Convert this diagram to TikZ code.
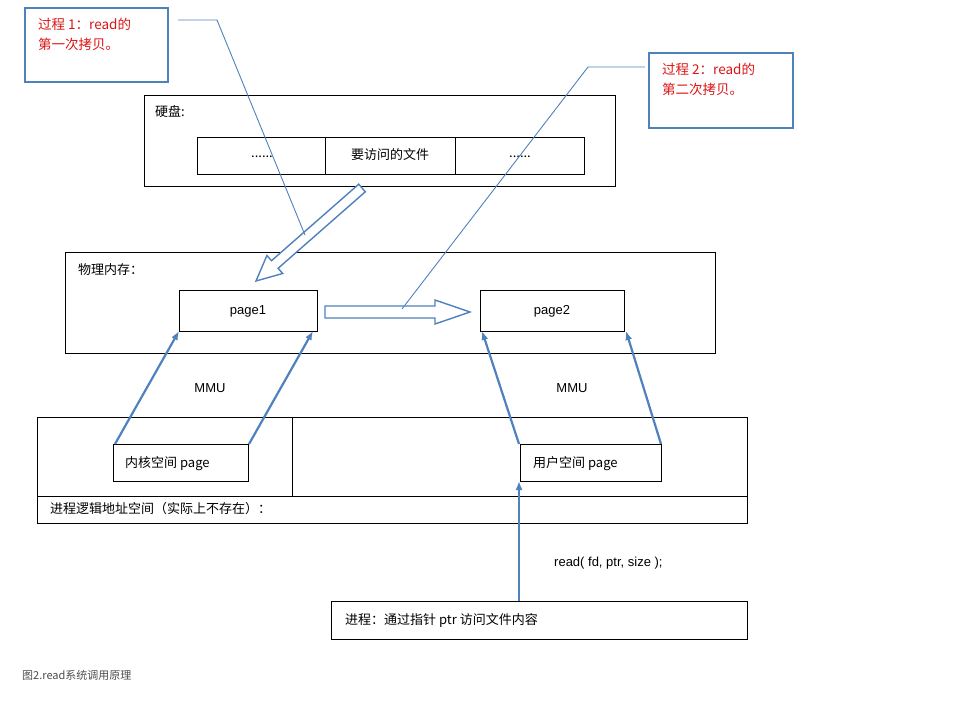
\documentclass[tikz,border=0pt]{standalone}
\usepackage{fontspec}
\usetikzlibrary{arrows.meta}
\setmainfont{Noto Sans CJK SC}
\newfontfamily\latinf{Liberation Sans}
\definecolor{ablue}{RGB}{79,129,189}
\definecolor{ared}{RGB}{220,20,20}
\begin{document}
\begin{tikzpicture}[x=1pt,y=-1pt,
  box/.style={draw=black,line width=0.8pt},
  bluebox/.style={draw=ablue,line width=1.6pt},
  txt/.style={font=\fontsize{13}{15}\selectfont,inner sep=0pt,anchor=west},
  ctxt/.style={font=\fontsize{13}{15}\selectfont,inner sep=0pt},
  lat/.style={font=\latinf\fontsize{13}{15}\selectfont},
  redtxt/.style={font=\fontsize{13.5}{20}\selectfont,text=ared,inner sep=0pt,anchor=north west,align=left},
  leader/.style={draw=ablue,line width=0.9pt},
  hollow/.style={draw=ablue,line width=1.4pt,fill=white},
  mmuarrow/.style={draw=ablue,line width=2.2pt,-{Latex[length=9pt,width=7pt]}}]
\useasboundingbox (0,0) rectangle (974,704);
% callouts
\draw[bluebox] (25,8) rectangle (168,82);
\node[redtxt] (c1) at (38,18) {过程 1：read的\\第一次拷贝。};
\draw[bluebox] (649,53) rectangle (793,128);
\node[redtxt] (c2) at (662,63) {过程 2：read的\\第二次拷贝。};
% hard disk
\draw[box] (144,95) rectangle (615,186);
\node[txt] (hd) at (155,112) {硬盘:};
\draw[box] (197,137) rectangle (584,174);
\draw[box] (325,137) -- (325,174) (455,137) -- (455,174);
\node[ctxt] (d1) at (262,157) {......};
\node[ctxt] (file) at (390,155) {要访问的文件};
\node[ctxt] (d2) at (520,157) {......};
% memory
\draw[box] (65,252) rectangle (715,353);
\node[txt] (mem) at (78,270) {物理内存：};
\draw[box] (179,290) rectangle (317,331);
\node[ctxt,lat] (p1) at (248,311) {page1};
\draw[box] (480,290) rectangle (624,331);
\node[ctxt,lat] (p2) at (552,311) {page2};
% hollow arrows
\draw[hollow] (365.3,191.8) -- (278.1,268.3) -- (282.7,273.5) -- (256,281) -- (266.9,255.5) -- (271.5,260.7) -- (358.7,184.2) -- cycle;
\draw[hollow] (325,306) -- (435,306) -- (435,300) -- (470,312) -- (435,324) -- (435,318) -- (325,318) -- cycle;
% leader lines
\draw[leader] (178,20) -- (217,20) -- (305,235);
\draw[leader] (645,67) -- (588,67) -- (402,309);
% MMU
\node[ctxt,lat] (m1) at (210,388) {MMU};
\node[ctxt,lat] (m2) at (572,388) {MMU};
% process space
\draw[box] (37,417) rectangle (747,523);
\draw[box] (37,496) -- (747,496);
\draw[box] (292,417) -- (292,496);
\draw[box] (113,444) rectangle (248,481);
\node[txt] (kp) at (125,464) {内核空间 page};
\draw[box] (520,444) rectangle (661,481);
\node[txt] (up) at (533,464) {用户空间 page};
\node[txt] (ls) at (50,509) {进程逻辑地址空间（实际上不存在）：};
% mmu arrows
\draw[mmuarrow] (115,444) -- (179,331);
\draw[mmuarrow] (249,444) -- (313,331);
\draw[mmuarrow] (519,444) -- (482,331);
\draw[mmuarrow] (661,444) -- (626,331);
\draw[mmuarrow] (519,601) -- (519,481);
\node[txt,lat] (rd) at (554,563) {read( fd, ptr, size );};
\draw[box] (331,601) rectangle (747,639);
\node[txt] (pr) at (345,620) {进程：通过指针 ptr 访问文件内容};
\node[txt,font=\fontsize{11}{13}\selectfont,text=black!70] (cap) at (22,675) {图2.read系统调用原理};
\end{tikzpicture}
\end{document}
